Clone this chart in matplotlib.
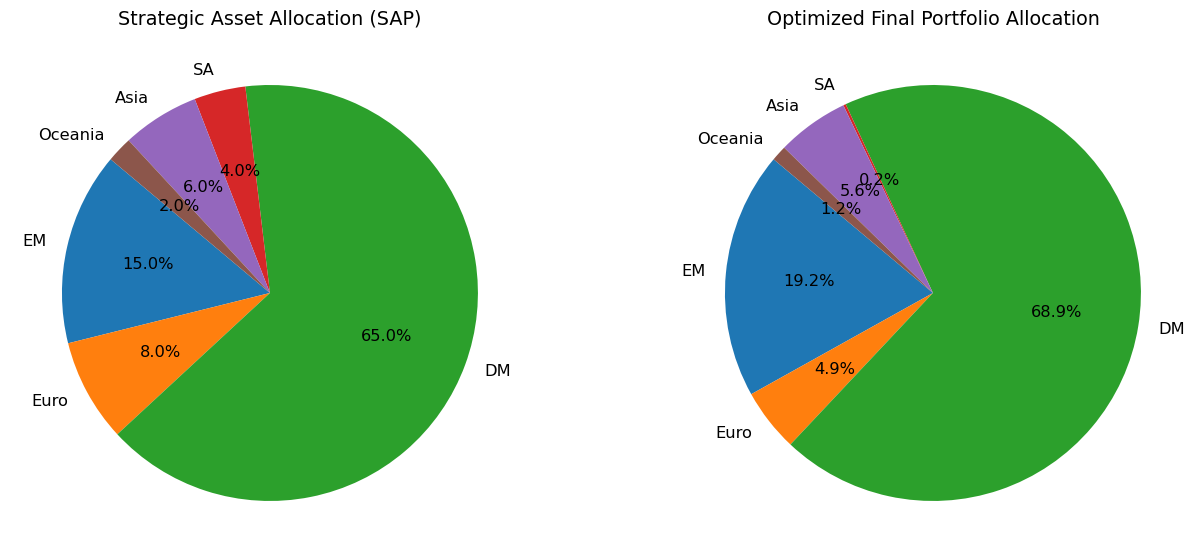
import matplotlib
matplotlib.use("Agg")
import matplotlib.pyplot as plt

labels = ["EM", "Euro", "DM", "SA", "Asia", "Oceania"]
sap_weights = [15.0, 8.0, 65.0, 4.0, 6.0, 2.0]
opt_weights = [19.2, 4.9, 68.9, 0.2, 5.6, 1.2]
colors = ["#1f77b4", "#ff7f0e", "#2ca02c", "#d62728", "#9467bd", "#8c564b"]

fig = plt.figure(figsize=(12, 5.57), dpi=100)
ax1 = fig.add_axes([0.0083, 0.0072, 0.4333, 0.9336])
ax2 = fig.add_axes([0.5608, 0.0072, 0.4333, 0.9336])

ax1.pie(sap_weights, labels=labels, colors=colors, autopct="%1.1f%%", startangle=140,
        textprops={"fontsize": 11.7})
ax1.set_title("Strategic Asset Allocation (SAP)", fontsize=13.8)

ax2.pie(opt_weights, labels=labels, colors=colors, autopct="%1.1f%%", startangle=140,
        textprops={"fontsize": 11.7})
ax2.set_title("Optimized Final Portfolio Allocation", fontsize=13.8)

fig.savefig("out.png", dpi=100)
